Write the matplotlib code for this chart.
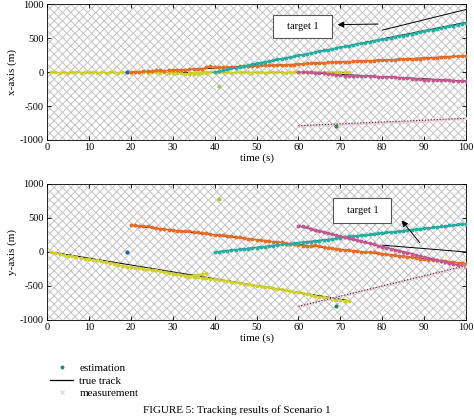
import numpy as np
import matplotlib
matplotlib.use("Agg")
import matplotlib.pyplot as plt
from matplotlib.lines import Line2D
from matplotlib.patches import Rectangle

plt.rcParams['font.family'] = ['Liberation Serif', 'DejaVu Serif']
plt.rcParams['hatch.linewidth'] = 0.7

# estimated tracks, one value per second
t_yel1 = np.arange(1, 39)
x_yel1 = [0, 0, -5, 0, -10, 5, 0, -5, 0, 5, 0, -5, 0, -10, 5, 0, -5, 0, 0, -5,
          0, 5, 0, -5, 0, 0, -5, 0, -10, -5, -10, -15, -20, -20, -25, -20, -15, -10]
y_yel1 = [0, -20, -35, -45, -55, -65, -75, -90, -100, -105, -115, -125, -135, -145,
          -160, -170, -185, -200, -215, -225, -230, -240, -250, -255, -260, -270,
          -285, -295, -305, -320, -330, -345, -355, -350, -345, -340, -330, -315]

t_yel2 = np.arange(34, 73)
x_yel2 = [-10, -5, -5, 0, 0, 5, 0, 0, 5, 0, -5, 0, 0, 5, 0, -5, 0, 0, -5, 0, 5, 0,
          0, -5, 0, 0, 5, 0, 0, 5, 0, 5, 0, 5, 0, 0, 5, 0, 0]
y_yel2 = [-365, -370, -375, -385, -390, -395, -400, -410, -415, -425, -435, -445,
          -455, -465, -475, -485, -495, -500, -510, -520, -530, -540, -550, -560,
          -575, -585, -595, -605, -615, -630, -645, -655, -665, -680, -695, -705,
          -710, -715, -715]

t_ora = np.arange(20, 101)
x_ora = [0, 0, 5, 10, 10, 20, 25, 25, 20, 25, 30, 30, 35, 35, 40, 40, 45, 50, 70, 90,
         75, 70, 75, 70, 80, 80, 85, 90, 90, 95, 95, 100, 100, 100, 105, 100, 105, 110,
         110, 105, 125, 125, 130, 130, 135, 140, 140, 145, 145, 150, 150, 155, 155,
         160, 160, 165, 165, 170, 170, 175, 180, 180, 185, 185, 190, 190, 195, 195,
         200, 200, 205, 210, 210, 215, 220, 225, 230, 235, 235, 240, 240]
y_ora = [390, 390, 385, 385, 375, 365, 355, 345, 340, 330, 325, 315, 310, 305, 305,
         295, 290, 280, 275, 265, 255, 250, 245, 240, 230, 225, 215, 205, 195, 185,
         180, 175, 165, 160, 150, 150, 140, 130, 120, 110, 100, 95, 90, 95, 100, 85,
         75, 65, 55, 45, 35, 30, 25, 20, 10, 5, 0, -5, -5, -10, -30, -35, -40, -45,
         -55, -60, -70, -80, -90, -100, -110, -115, -120, -125, -130, -140, -145,
         -150, -160, -165, -170]

t_tea = np.arange(40, 101)
x_tea = [0, 10, 30, 45, 55, 65, 80, 90, 105, 115, 130, 140, 155, 165, 175, 190, 200,
         215, 225, 235, 250, 260, 270, 285, 295, 305, 320, 330, 345, 355, 365, 380,
         390, 400, 415, 425, 435, 450, 460, 470, 485, 495, 505, 520, 530, 540, 555,
         565, 580, 590, 600, 615, 625, 640, 650, 660, 675, 685, 700, 715, 730]
y_tea = [0, 5, 15, 20, 30, 35, 40, 45, 50, 55, 65, 70, 80, 85, 95, 100, 110, 115, 120,
         130, 135, 140, 145, 150, 155, 160, 170, 175, 185, 200, 210, 220, 230, 235,
         240, 250, 255, 260, 270, 275, 285, 290, 295, 300, 310, 315, 325, 330, 335,
         340, 350, 355, 360, 370, 375, 380, 390, 395, 405, 410, 410]

t_pin = np.arange(60, 101)
x_pin = [0, 0, 0, 0, -5, -5, -10, -20, -30, -40, -45, -50, -50, -50, -55, -55, -55,
         -60, -60, -65, -65, -70, -70, -75, -80, -85, -90, -95, -100, -105, -110,
         -110, -110, -115, -115, -120, -120, -125, -130, -130, -130]
y_pin = [385, 375, 360, 345, 330, 315, 300, 285, 265, 250, 235, 220, 205, 190, 170,
         155, 140, 125, 110, 95, 80, 65, 50, 35, 20, 5, -10, -25, -40, -60, -75, -90,
         -105, -120, -135, -150, -165, -180, -195, -205, -220]

t_lpk = np.arange(60, 101)
x_lpk = [-790, -790, -785, -785, -780, -780, -775, -775, -770, -770, -770, -765, -765,
         -760, -760, -755, -755, -750, -750, -745, -745, -740, -740, -735, -735, -730,
         -730, -725, -725, -720, -715, -715, -710, -705, -705, -700, -695, -690, -690,
         -685, -680]
y_lpk = [-800, -785, -770, -755, -740, -725, -710, -695, -680, -665, -650, -635, -620,
         -605, -590, -575, -560, -545, -530, -515, -500, -485, -470, -455, -440, -425,
         -410, -395, -380, -365, -350, -335, -320, -305, -290, -275, -260, -245, -230,
         -215, -200]

# single estimates (t, x, y)
single_t = [19, 41, 69]
single_x = [0, -210, -795]
single_y = [0, 780, -800]
single_c = ['#2563a6', '#a8c84a', '#2a8a5a']

# true tracks: start/end (t, x, y)
true_t = [(1, 72), (20, 100), (40, 100), (60, 100), (80, 100)]
true_x = [(0, 0), (0, 240), (0, 735), (0, -130), (620, 925)]
true_y = [(0, -715), (390, -170), (0, 410), (380, -220), (100, 0)]
dot_t = (60, 100)
dot_x = (-790, -680)
dot_y = (-800, -200)

tracks = [
    (t_yel1, x_yel1, y_yel1, '#cfd12a', 2.8),
    (t_yel2, x_yel2, y_yel2, '#cfd12a', 2.8),
    (t_ora, x_ora, y_ora, '#ec6a22', 2.8),
    (t_tea, x_tea, y_tea, '#22b0a2', 2.8),
    (t_pin, x_pin, y_pin, '#c45790', 2.8),
    (t_lpk, x_lpk, y_lpk, '#ecc8d6', 2.2),
]

fig = plt.figure(figsize=(4.74, 4.16), dpi=100)
ax1 = fig.add_axes([0.0992, 0.6635, 0.884, 0.326])
ax2 = fig.add_axes([0.0992, 0.2308, 0.884, 0.327])

for k, (ax, ylab) in enumerate([(ax1, 'x-axis (m)'), (ax2, 'y-axis (m)')]):
    # measurement clutter drawn as a light cross texture
    ax.add_patch(Rectangle((0, 0), 1, 1, transform=ax.transAxes, facecolor='none',
                           edgecolor='#c4c4c4', hatch='xxxx', linewidth=0, zorder=0.5))
    for tt, xx, yy in zip(true_t, true_x, true_y):
        ax.plot(tt, xx if k == 0 else yy, color='k', lw=0.7, zorder=2)
    ax.plot(dot_t, dot_x if k == 0 else dot_y, color='#333333', lw=0.8, ls=':', zorder=3.5)
    for tt, xx, yy, c, ms in tracks:
        ax.plot(tt, xx if k == 0 else yy, '-o', color=c, ms=ms, lw=0.8, mew=0, zorder=3)
    for tt, xx, yy, c in zip(single_t, single_x, single_y, single_c):
        ax.plot(tt, xx if k == 0 else yy, 'o', color=c, ms=3.0, mew=0, zorder=4)

    ax.set_xlim(0, 100)
    ax.set_ylim(-1000, 1000)
    ax.set_xticks(range(0, 101, 10))
    ax.set_yticks([-1000, -500, 0, 500, 1000])
    ax.set_yticklabels(['-1000', '-500', '0', '500', '1000'])
    ax.tick_params(direction='in', top=True, right=True, length=3, width=0.6,
                   labelsize=7.5, pad=2.5)
    for s in ax.spines.values():
        s.set_linewidth(0.6)
    ax.set_xlabel('time (s)', fontsize=8, labelpad=1)
    ax.set_ylabel(ylab, fontsize=8, labelpad=2)

# "target 1" labels
ax1.add_patch(Rectangle((53.9, 504), 14.1, 338, facecolor='white', edgecolor='#555555',
                        lw=0.8, zorder=5))
ax1.text(61, 673, 'target 1', ha='center', va='center', fontsize=7.5, zorder=6)
ax1.annotate('', xy=(68.7, 700), xytext=(79.7, 710), zorder=6,
             arrowprops=dict(arrowstyle='-|>', color='k', lw=0.7, mutation_scale=9))

ax2.add_patch(Rectangle((68.3, 431), 13.9, 359, facecolor='white', edgecolor='#555555',
                        lw=0.8, zorder=5))
ax2.text(75.3, 610, 'target 1', ha='center', va='center', fontsize=7.5, zorder=6)
ax2.annotate('', xy=(84.2, 495), xytext=(89.4, 103), zorder=6,
             arrowprops=dict(arrowstyle='-|>', color='k', lw=0.7, mutation_scale=9))

handles = [
    Line2D([], [], ls='none', marker='o', ms=2.8, mew=0, color='#1a8a7a'),
    Line2D([], [], color='k', lw=0.9),
    Line2D([], [], ls='none', marker='x', ms=3.5, mew=0.6, color='#c8c8c8'),
]
fig.legend(handles, ['estimation', 'true track', 'measurement'], loc='upper left',
           bbox_to_anchor=(0.09, 0.145), frameon=False, fontsize=8,
           handlelength=2.0, handletextpad=0.6, labelspacing=0.25, borderpad=0.2)

fig.text(0.5, 0.003, 'FIGURE 5: Tracking results of Scenario 1', ha='center',
         va='bottom', fontsize=8)

fig.savefig('out.png', dpi=100)
